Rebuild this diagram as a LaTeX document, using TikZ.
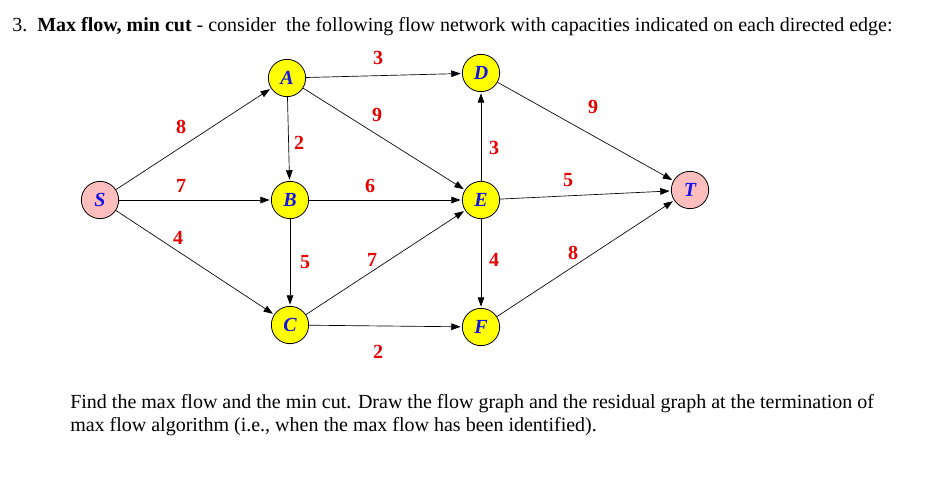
\documentclass[tikz,border=0pt]{standalone}
\usepackage{fontspec}
\setmainfont{Liberation Serif}
\usetikzlibrary{arrows.meta}
\definecolor{nodeyellow}{RGB}{255, 255, 0}
\definecolor{nodepink}{RGB}{255, 190, 190}
\definecolor{labelblue}{RGB}{20, 20, 230}
\definecolor{capred}{RGB}{230, 0, 0}

\begin{document}
\begin{tikzpicture}[
    x=0.75pt, y=-0.75pt,
    vertex/.style={
        circle,
        draw=black,
        line width=0.6pt,
        minimum size=28pt,
        inner sep=0pt,
        fill=nodeyellow,
        text=labelblue,
        font=\fontsize{15}{15}\selectfont\bfseries\itshape
    },
    endvertex/.style={vertex, fill=nodepink},
    flowedge/.style={draw=black, line width=0.5pt, -{Triangle[length=7pt, width=5pt]}, shorten >=1pt},
    caplabel/.style={text=capred, font=\fontsize{15}{15}\selectfont\bfseries},
    textline/.style={anchor=west, font=\fontsize{15}{17}\selectfont, inner sep=0pt}
]
    \useasboundingbox (0,0) rectangle (927,493);

    % --- Text ---
    \node[textline] (title) at (12,27) {3.\ \ \textbf{Max flow, min cut} - consider\ \ the following flow network with capacities indicated on each directed edge:};
    \node[textline] (find1) at (70,404) {Find the max flow and the min cut. Draw the flow graph and the residual graph at the termination of};
    \node[textline] (find2) at (70,427) {max flow algorithm (i.e., when the max flow has been identified).};

    % --- Vertices ---
    \node[endvertex] (S) at (100,200) {S};
    \node[vertex] (A) at (287,78) {A};
    \node[vertex] (B) at (290,200) {B};
    \node[vertex] (C) at (290,325) {C};
    \node[vertex] (D) at (481,73) {D};
    \node[vertex] (E) at (481,200) {E};
    \node[vertex] (F) at (481,327) {F};
    \node[endvertex] (T) at (690,190) {T};

    % --- Edges ---
    \draw[flowedge] (S) -- (A);
    \draw[flowedge] (S) -- (B);
    \draw[flowedge] (S) -- (C);
    \draw[flowedge] (A) -- (D);
    \draw[flowedge] (A) -- (B);
    \draw[flowedge] (A) -- (E);
    \draw[flowedge] (B) -- (E);
    \draw[flowedge] (B) -- (C);
    \draw[flowedge] (C) -- (E);
    \draw[flowedge] (C) -- (F);
    \draw[flowedge] (E) -- (D);
    \draw[flowedge] (E) -- (F);
    \draw[flowedge] (D) -- (T);
    \draw[flowedge] (E) -- (T);
    \draw[flowedge] (F) -- (T);

    % --- Capacities ---
    \node[caplabel] (cAD) at (378,58) {3};
    \node[caplabel] (cSA) at (181,127) {8};
    \node[caplabel] (cAB) at (299,143) {2};
    \node[caplabel] (cAE) at (377,115) {9};
    \node[caplabel] (cDT) at (593,107) {9};
    \node[caplabel] (cED) at (494,148) {3};
    \node[caplabel] (cSB) at (181,186) {7};
    \node[caplabel] (cBE) at (370,186) {6};
    \node[caplabel] (cET) at (568,180) {5};
    \node[caplabel] (cSC) at (178,238) {4};
    \node[caplabel] (cBC) at (305,262) {5};
    \node[caplabel] (cCE) at (372,260) {7};
    \node[caplabel] (cEF) at (494,260) {4};
    \node[caplabel] (cFT) at (573,253) {8};
    \node[caplabel] (cCF) at (378,352) {2};

\end{tikzpicture}
\end{document}
